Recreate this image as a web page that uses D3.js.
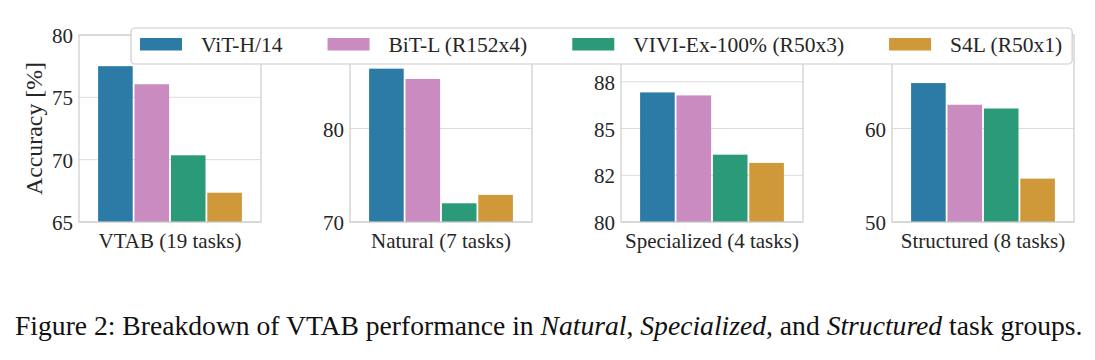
<!DOCTYPE html>
<html>
<head>
<meta charset="utf-8">
<script src="https://cdn.jsdelivr.net/npm/d3@7"></script>
<style>
  html, body { margin: 0; padding: 0; background: #ffffff; }
  svg { display: block; font-family: "Liberation Serif", "DejaVu Serif", serif; }
</style>
</head>
<body>
<svg id="chart" width="1095" height="360"></svg>
<script>
// ---- data ----
const series = ["ViT-H/14", "BiT-L (R152x4)", "VIVI-Ex-100% (R50x3)", "S4L (R50x1)"];
const colors = ["#2c7aa6", "#c98bc0", "#2a9a78", "#cf9838"];
const groups = ["VTAB (19 tasks)", "Natural (7 tasks)", "Specialized (4 tasks)", "Structured (8 tasks)"];
const vtabValues        = [77.5, 76.05, 70.35, 67.35];
const naturalValues     = [86.4, 85.3, 72.0, 72.9];
const specializedValues = [86.93, 86.77, 83.6, 83.16];
const structuredValues  = [64.86, 62.54, 62.14, 54.64];
const yDomains = [[65, 80], [70, 90], [80, 90], [50, 70]];
const yTicks = [[65, 70, 75, 80], [70, 80], [80, 82.5, 85, 87.5], [50, 60]];
const yTickLabels = [["65", "70", "75", "80"], ["70", "80"], ["80", "82", "85", "88"], ["50", "60"]];
const yLabel = "Accuracy [%]";
const values = [vtabValues, naturalValues, specializedValues, structuredValues];

// ---- layout ----
const svg = d3.select("#chart");
const axTop = 35, axBottom = 222, axWidth = 182;
const panelScale = d3.scalePoint().domain(groups).range([79, 892]);

groups.forEach((g, gi) => {
  const x0 = panelScale(g);
  const y = d3.scaleLinear().domain(yDomains[gi]).range([axBottom, axTop]);
  const x = d3.scaleBand().domain(series).range([x0, x0 + axWidth]).paddingInner(0).paddingOuter(0.5);
  const p = svg.append("g");

  // grid
  p.selectAll("line.grid").data(yTicks[gi]).join("line")
    .attr("x1", x0).attr("x2", x0 + axWidth)
    .attr("y1", d => y(d)).attr("y2", d => y(d))
    .attr("stroke", "#dcdcdc").attr("stroke-width", 1);

  // bars
  p.selectAll("rect.bar").data(values[gi]).join("rect")
    .attr("x", (d, i) => x(series[i]) + 0.9)
    .attr("width", x.bandwidth() - 1.8)
    .attr("y", d => y(d))
    .attr("height", d => axBottom - y(d))
    .attr("fill", (d, i) => colors[i]);

  // frame
  p.append("rect")
    .attr("x", x0).attr("y", axTop).attr("width", axWidth).attr("height", axBottom - axTop)
    .attr("fill", "none").attr("stroke", "#cccccc").attr("stroke-width", 1.2);

  // tick labels
  p.selectAll("text.tick").data(yTicks[gi]).join("text")
    .attr("x", x0 - 6).attr("y", d => y(d) + 1)
    .attr("text-anchor", "end").attr("dominant-baseline", "central")
    .attr("font-size", 21).attr("fill", "#262626")
    .text((d, i) => yTickLabels[gi][i]);

  // x label
  p.append("text")
    .attr("x", x0 + axWidth / 2).attr("y", 248)
    .attr("text-anchor", "middle").attr("font-size", 21).attr("fill", "#262626")
    .text(g);

  if (gi === 0) {
    p.append("text")
      .attr("transform", `translate(42,${(axTop + axBottom) / 2}) rotate(-90)`)
      .attr("text-anchor", "middle").attr("font-size", 23).attr("fill", "#262626")
      .attr("textLength", 133).attr("lengthAdjust", "spacingAndGlyphs")
      .text(yLabel);
  }
});

// ---- legend ----
const leg = svg.append("g");
const legBox = leg.append("rect")
  .attr("x", 131).attr("y", 28).attr("height", 36).attr("rx", 4)
  .attr("fill", "#ffffff").attr("stroke", "#cccccc").attr("stroke-width", 1.2);
let lx = 140;
series.forEach((s, i) => {
  leg.append("rect").attr("x", lx).attr("y", 38).attr("width", 42).attr("height", 12.5).attr("fill", colors[i]);
  const t = leg.append("text").attr("x", lx + 61).attr("y", 52)
    .attr("font-size", 21.5).attr("fill", "#262626").text(s);
  const w = t.node().getComputedTextLength();
  if (i < series.length - 1) lx = lx + 61 + w + 45;
  else lx = lx + 61 + w + 10;
});
legBox.attr("width", lx - 131);

// ---- caption ----
const cap = svg.append("text").attr("x", 15).attr("y", 335).attr("font-size", 27).attr("fill", "#111111");
const parts = [["Figure 2: Breakdown of VTAB performance in ", false], ["Natural", true], [", ", false],
  ["Specialized", true], [", and ", false], ["Structured", true], [" task groups.", false]];
parts.forEach(([t, it]) => cap.append("tspan").attr("font-style", it ? "italic" : "normal").text(t));
const cw = cap.node().getComputedTextLength();
cap.attr("font-size", 27 * 1068 / cw);
</script>
</body>
</html>
